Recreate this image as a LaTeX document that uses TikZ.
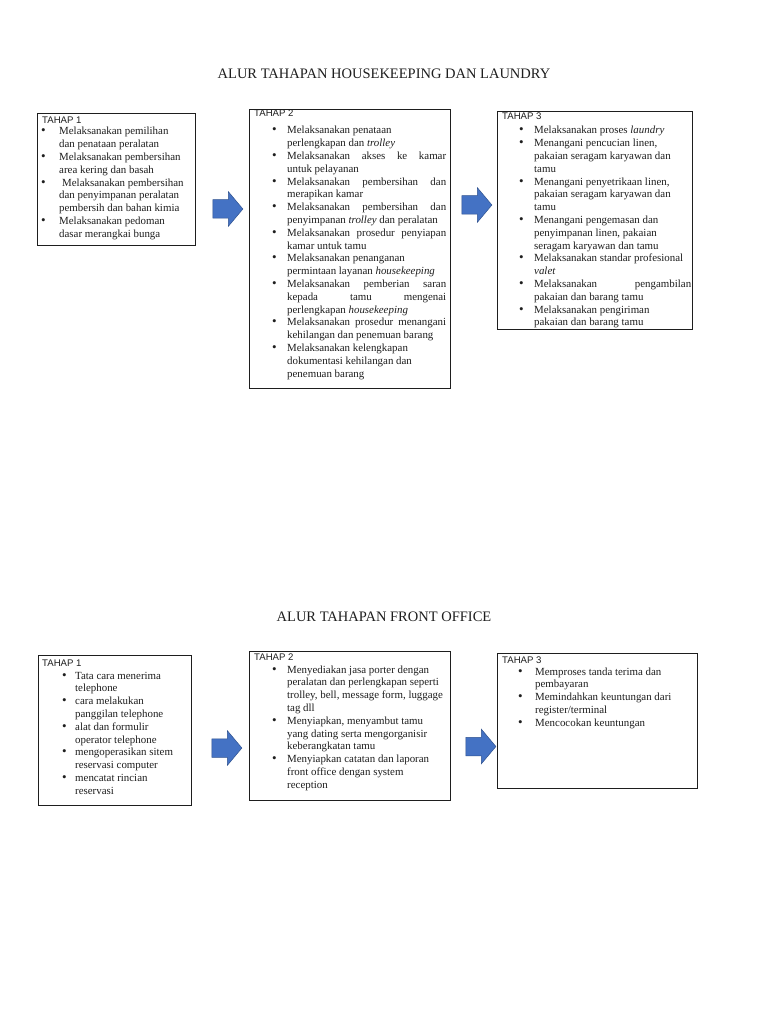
\documentclass[tikz,border=0pt]{standalone}
\usepackage{fontspec}
\usepackage{enumitem}
\usepackage{tikz}
\usetikzlibrary{shapes.arrows}
\setmainfont{Liberation Serif}
\newfontfamily\tahapfont{Liberation Sans}
\definecolor{arrowblue}{HTML}{4472C4}
\definecolor{arrowedge}{HTML}{2F528F}
\definecolor{inkgray}{HTML}{1E1E1E}
\newlist{tahaplist}{itemize}{1}
\setlist[tahaplist]{label={\fontsize{13}{13}\selectfont\textbullet}, labelsep=0pt, align=left, nosep}

\begin{document}
\begin{tikzpicture}[x=1pt,y=-1pt,
    box/.style={draw=inkgray, line width=0.8pt, anchor=north west, inner sep=0pt},
    tahap/.style={font=\tahapfont\fontsize{9.6}{11}\selectfont, anchor=base west, inner sep=0pt, text=inkgray},
    judul/.style={font=\fontsize{14.5}{17}\selectfont, text=inkgray},
    daftar/.style={anchor=north west, inner sep=0pt, align=justify, text=inkgray, font=\fontsize{10.9}{12.8}\selectfont},
    blockarrow/.style={single arrow, fill=arrowblue, draw=arrowedge, line width=0.5pt, inner xsep=0pt, inner ysep=9pt,
        minimum height=30pt, single arrow head extend=8pt, single arrow tip angle=100}]
    \fill[white] (0,0) rectangle (768,1024);
    \useasboundingbox (0,0) rectangle (768,1024);

    \node[judul] (judulhk) at (384,74) {ALUR TAHAPAN HOUSEKEEPING DAN LAUNDRY};

    \node[box, minimum width=158pt, minimum height=132pt] (hk1) at (37,113) {};
    \node[box, minimum width=201pt, minimum height=279pt] (hk2) at (249,109) {};
    \node[box, minimum width=195pt, minimum height=218pt] (hk3) at (497,111) {};
    \node[tahap] (hk1lab) at ([shift={(5,11)}]hk1.north west) {TAHAP 1};
    \node[tahap] (hk2lab) at ([shift={(5,8)}]hk2.north west) {TAHAP 2};
    \node[tahap] (hk3lab) at ([shift={(5,9)}]hk3.north west) {TAHAP 3};

    \node[daftar, text width=152pt] (hk1list) at (41,122) {%
    \begin{tahaplist}[leftmargin=18pt, labelwidth=18pt]
    \item Melaksanakan pemilihan\newline dan penataan peralatan
    \item Melaksanakan pembersihan\newline area kering dan basah
    \item \hspace{3pt}Melaksanakan pembersihan\newline dan penyimpanan peralatan\newline pembersih dan bahan kimia
    \item Melaksanakan pedoman\newline dasar merangkai bunga
    \end{tahaplist}};

    \node[daftar, text width=174pt] (hk2list) at (272,121) {%
    \begin{tahaplist}[leftmargin=15pt, labelwidth=15pt]
    \item Melaksanakan penataan\newline perlengkapan dan \textit{trolley}
    \item Melaksanakan akses ke kamar\linebreak untuk pelayanan
    \item Melaksanakan pembersihan dan\linebreak merapikan kamar
    \item Melaksanakan pembersihan dan\linebreak penyimpanan \textit{trolley} dan peralatan
    \item Melaksanakan prosedur penyiapan\linebreak kamar untuk tamu
    \item Melaksanakan penanganan\newline permintaan layanan \textit{housekeeping}
    \item Melaksanakan pemberian saran\linebreak kepada tamu mengenai\linebreak perlengkapan \textit{housekeeping}
    \item Melaksanakan prosedur menangani\linebreak kehilangan dan penemuan barang
    \item Melaksanakan kelengkapan\newline dokumentasi kehilangan dan\newline penemuan barang
    \end{tahaplist}};

    \node[daftar, text width=172pt] (hk3list) at (519,121) {%
    \begin{tahaplist}[leftmargin=15pt, labelwidth=15pt]
    \item Melaksanakan proses \textit{laundry}
    \item Menangani pencucian linen,\newline pakaian seragam karyawan dan\newline tamu
    \item Menangani penyetrikaan linen,\newline pakaian seragam karyawan dan\newline tamu
    \item Menangani pengemasan dan\newline penyimpanan linen, pakaian\newline seragam karyawan dan tamu
    \item Melaksanakan standar profesional\newline \textit{valet}
    \item Melaksanakan pengambilan\linebreak pakaian dan barang tamu
    \item Melaksanakan pengiriman\newline pakaian dan barang tamu
    \end{tahaplist}};

    \node[blockarrow] (hkpanah1) at (224,209) {};
    \node[blockarrow] (hkpanah2) at (473,205) {};

    \node[judul] (judulfo) at (384,617) {ALUR TAHAPAN FRONT OFFICE};

    \node[box, minimum width=153pt, minimum height=150pt] (fo1) at (38,655) {};
    \node[box, minimum width=201pt, minimum height=149pt] (fo2) at (249,651) {};
    \node[box, minimum width=200pt, minimum height=135pt] (fo3) at (497,653) {};
    \node[tahap] (fo1lab) at ([shift={(4,11)}]fo1.north west) {TAHAP 1};
    \node[tahap] (fo2lab) at ([shift={(5,9)}]fo2.north west) {TAHAP 2};
    \node[tahap] (fo3lab) at ([shift={(5,10)}]fo3.north west) {TAHAP 3};

    \node[daftar, text width=128pt] (fo1list) at (62,666) {%
    \begin{tahaplist}[leftmargin=13pt, labelwidth=13pt]
    \item Tata cara menerima\newline telephone
    \item cara melakukan\newline panggilan telephone
    \item alat dan formulir\newline operator telephone
    \item mengoperasikan sitem\newline reservasi computer
    \item mencatat rincian\newline reservasi
    \end{tahaplist}};

    \node[daftar, text width=176pt] (fo2list) at (272,660) {%
    \begin{tahaplist}[leftmargin=15pt, labelwidth=15pt]
    \item Menyediakan jasa porter dengan\newline peralatan dan perlengkapan seperti\newline trolley, bell, message form, luggage\newline tag dll
    \item Menyiapkan, menyambut tamu\newline yang dating serta mengorganisir\newline keberangkatan tamu
    \item Menyiapkan catatan dan laporan\newline front office dengan system\newline reception
    \end{tahaplist}};

    \node[daftar, text width=174pt] (fo3list) at (518,662) {%
    \begin{tahaplist}[leftmargin=17pt, labelwidth=17pt]
    \item Memproses tanda terima dan\newline pembayaran
    \item Memindahkan keuntungan dari\newline register/terminal
    \item Mencocokan keuntungan
    \end{tahaplist}};

    \node[blockarrow] (fopanah1) at (223,748) {};
    \node[blockarrow] (fopanah2) at (477,746.5) {};
\end{tikzpicture}
\end{document}
